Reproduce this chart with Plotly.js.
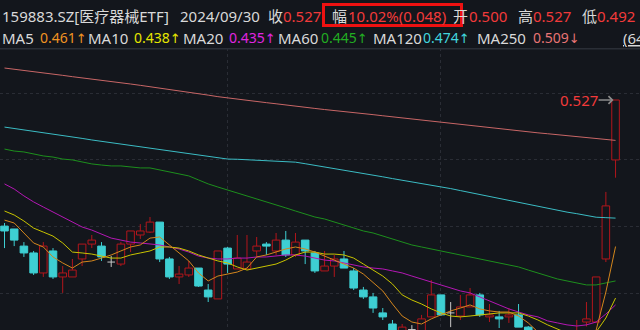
<!DOCTYPE html>
<html><head><meta charset="utf-8">
<script src="https://cdn.plot.ly/plotly-3.0.1.min.js"></script>
<style>html,body{margin:0;padding:0;background:#13161c;}#c{width:640px;height:330px;}</style>
</head><body><div id="c"></div>
<script>
// ---- data ----
const opens  = [0.4702,0.4689,0.4612,0.4581,0.4491,0.4590,0.4473,0.4473,0.4554,0.4621,0.4612,0.4540,0.4531,0.4621,0.4662,0.4675,0.4720,0.4554,0.4473,0.4482,0.4513,0.4414,0.4374,0.4603,0.4509,0.4509,0.4590,0.4621,0.4590,0.4639,0.4572,0.4639,0.4581,0.4500,0.4522,0.4554,0.4500,0.4414,0.4383,0.4311,0.4261,0.4222,0.4236,0.4225,0.4293,0.4392,0.4311,0.4297,0.4338,0.4392,0.4293,0.4293,0.4293,0.4302,0.4247,0.4200,0.4175,0.4150,0.4160,0.4170,0.4270,0.4270,0.4554,0.5000];
const highs  = [0.4716,0.4689,0.4630,0.4590,0.4630,0.4603,0.4522,0.4554,0.4621,0.4662,0.4630,0.4567,0.4630,0.4680,0.4711,0.4743,0.4720,0.4563,0.4522,0.4545,0.4513,0.4441,0.4590,0.4608,0.4662,0.4662,0.4653,0.4630,0.4671,0.4680,0.4671,0.4639,0.4590,0.4590,0.4572,0.4590,0.4513,0.4428,0.4401,0.4333,0.4279,0.4261,0.4256,0.4302,0.4459,0.4392,0.4360,0.4392,0.4423,0.4401,0.4351,0.4320,0.4333,0.4351,0.4252,0.4215,0.4200,0.4180,0.4190,0.4279,0.4360,0.4473,0.4856,0.5270];
const lows   = [0.4603,0.4612,0.4563,0.4482,0.4473,0.4464,0.4401,0.4473,0.4522,0.4603,0.4545,0.4518,0.4522,0.4585,0.4644,0.4671,0.4540,0.4464,0.4441,0.4473,0.4428,0.4360,0.4374,0.4491,0.4509,0.4509,0.4563,0.4572,0.4572,0.4563,0.4563,0.4531,0.4491,0.4500,0.4473,0.4513,0.4414,0.4374,0.4311,0.4279,0.4215,0.4212,0.4225,0.4220,0.4293,0.4297,0.4247,0.4279,0.4338,0.4293,0.4270,0.4243,0.4266,0.4247,0.4180,0.4160,0.4140,0.4120,0.4130,0.4160,0.4250,0.4265,0.4540,0.4920];
const closes = [0.4680,0.4639,0.4581,0.4491,0.4612,0.4473,0.4491,0.4504,0.4621,0.4639,0.4563,0.4540,0.4621,0.4680,0.4680,0.4720,0.4554,0.4473,0.4486,0.4513,0.4432,0.4383,0.4590,0.4531,0.4558,0.4540,0.4612,0.4612,0.4639,0.4572,0.4630,0.4590,0.4500,0.4522,0.4554,0.4513,0.4423,0.4383,0.4333,0.4293,0.4228,0.4247,0.4236,0.4284,0.4392,0.4302,0.4311,0.4338,0.4392,0.4302,0.4302,0.4284,0.4302,0.4247,0.4200,0.4175,0.4150,0.4160,0.4170,0.4220,0.4284,0.4473,0.4793,0.5270];

const ma5   = [0.4729,0.4716,0.4671,0.4626,0.4608,0.4563,0.4536,0.4513,0.4540,0.4545,0.4558,0.4572,0.4590,0.4608,0.4617,0.4648,0.4653,0.4617,0.4585,0.4545,0.4491,0.4455,0.4477,0.4486,0.4495,0.4513,0.4563,0.4572,0.4585,0.4599,0.4608,0.4599,0.4585,0.4567,0.4549,0.4531,0.4513,0.4486,0.4450,0.4410,0.4351,0.4297,0.4270,0.4261,0.4284,0.4302,0.4320,0.4333,0.4347,0.4329,0.4320,0.4315,0.4315,0.4297,0.4266,0.4225,0.4198,0.4180,0.4166,0.4166,0.4180,0.4234,0.4405,0.4610];
const ma10  = [0.4770,0.4752,0.4725,0.4693,0.4675,0.4657,0.4626,0.4585,0.4581,0.4576,0.4567,0.4558,0.4558,0.4572,0.4581,0.4590,0.4608,0.4608,0.4603,0.4590,0.4572,0.4558,0.4545,0.4536,0.4518,0.4504,0.4513,0.4522,0.4531,0.4549,0.4572,0.4585,0.4585,0.4576,0.4576,0.4572,0.4558,0.4531,0.4504,0.4477,0.4441,0.4392,0.4369,0.4351,0.4329,0.4311,0.4297,0.4293,0.4297,0.4302,0.4306,0.4311,0.4311,0.4311,0.4297,0.4279,0.4257,0.4239,0.4220,0.4207,0.4207,0.4225,0.4288,0.4378];
const ma20  = [0.4892,0.4869,0.4838,0.4811,0.4788,0.4765,0.4743,0.4720,0.4698,0.4684,0.4666,0.4648,0.4639,0.4630,0.4626,0.4621,0.4617,0.4608,0.4599,0.4585,0.4567,0.4558,0.4554,0.4554,0.4558,0.4558,0.4563,0.4563,0.4567,0.4572,0.4572,0.4567,0.4558,0.4549,0.4545,0.4536,0.4527,0.4518,0.4513,0.4509,0.4500,0.4491,0.4477,0.4464,0.4450,0.4437,0.4423,0.4410,0.4401,0.4383,0.4365,0.4347,0.4329,0.4315,0.4302,0.4293,0.4275,0.4266,0.4257,0.4252,0.4257,0.4270,0.4306,0.4347];
const ma60  = [0.5049,0.5040,0.5036,0.5027,0.5018,0.5013,0.5004,0.5000,0.4991,0.4982,0.4977,0.4973,0.4973,0.4968,0.4964,0.4964,0.4955,0.4946,0.4937,0.4928,0.4910,0.4892,0.4878,0.4865,0.4851,0.4838,0.4824,0.4811,0.4797,0.4784,0.4770,0.4757,0.4743,0.4734,0.4720,0.4707,0.4693,0.4680,0.4671,0.4657,0.4644,0.4630,0.4617,0.4608,0.4599,0.4590,0.4581,0.4572,0.4563,0.4554,0.4545,0.4536,0.4527,0.4518,0.4504,0.4491,0.4477,0.4464,0.4455,0.4446,0.4437,0.4437,0.4446,0.4455];
const ma120 = [0.5148,0.5142,0.5135,0.5129,0.5123,0.5116,0.5110,0.5103,0.5097,0.5090,0.5084,0.5078,0.5071,0.5065,0.5058,0.5052,0.5045,0.5039,0.5034,0.5028,0.5022,0.5016,0.5010,0.5004,0.5003,0.5001,0.5000,0.4998,0.4997,0.4995,0.4990,0.4983,0.4976,0.4969,0.4962,0.4954,0.4947,0.4939,0.4932,0.4924,0.4916,0.4909,0.4901,0.4894,0.4886,0.4879,0.4871,0.4862,0.4853,0.4844,0.4835,0.4826,0.4817,0.4808,0.4799,0.4790,0.4782,0.4774,0.4765,0.4758,0.4750,0.4742,0.4740,0.4738];
const ma250 = [0.5414,0.5409,0.5403,0.5397,0.5392,0.5386,0.5381,0.5375,0.5370,0.5364,0.5358,0.5353,0.5347,0.5342,0.5336,0.5330,0.5325,0.5318,0.5311,0.5305,0.5298,0.5292,0.5285,0.5279,0.5274,0.5268,0.5263,0.5258,0.5253,0.5247,0.5243,0.5237,0.5232,0.5227,0.5223,0.5218,0.5213,0.5208,0.5204,0.5199,0.5194,0.5190,0.5185,0.5180,0.5176,0.5171,0.5166,0.5161,0.5156,0.5152,0.5146,0.5141,0.5136,0.5131,0.5127,0.5122,0.5118,0.5114,0.5110,0.5105,0.5101,0.5097,0.5093,0.5088];

const priceGrid = [0.44, 0.47, 0.50, 0.53];
const dateGridIdx = [24, 46];
const titleText = '159883.SZ[医疗器械ETF]';
const dateText = '2024/09/30';
const quoteLabels = ['收', '幅', '开', '高', '低'];
const quoteValues = ['0.527', '10.02%(0.048)', '0.500', '0.527', '0.492'];
const maNames = ['MA5', 'MA10', 'MA20', 'MA60', 'MA120', 'MA250'];
const maLabels = ['0.461↑', '0.438↑', '0.435↑', '0.445↑', '0.474↑', '0.509↓'];
const countLabel = '(64)';
const lastPrice = closes[closes.length - 1];

// ---- styles ----
const BG = '#13161c';
const UP = '#b3161c';
const DOWN = '#3ecfd3';
const DOJI = '#c8c8c8';
const WHITE = '#d9d9d9';
const RED = '#f23a3a';
const maLineColors = ['#d4861c', '#c9c400', '#b416b4', '#1d8f1d', '#3bbcc4', '#c86666'];
const maTextColors = ['#f09322', '#e6e600', '#e025e0', '#22ad22', '#42d6de', '#e87474'];

const n = closes.length;
const xs = closes.map((_, i) => i + 1);
const upI = [], downI = [], dojiI = [];
xs.forEach((x, i) => {
  if (closes[i] > opens[i]) upI.push(i);
  else if (closes[i] < opens[i]) downI.push(i);
  else dojiI.push(i);
});

function bodyTrace(ids, fill, line) {
  return {
    type: 'bar', x: ids.map(i => xs[i]),
    base: ids.map(i => Math.min(opens[i], closes[i])),
    y: ids.map(i => Math.abs(closes[i] - opens[i])),
    width: 0.78,
    marker: { color: fill, line: { color: line, width: 1 } },
    hoverinfo: 'skip'
  };
}
function wickTrace(ids, color) {
  const wx = [], wy = [];
  ids.forEach(i => {
    const top = Math.max(opens[i], closes[i]), bot = Math.min(opens[i], closes[i]);
    wx.push(xs[i], xs[i], null, xs[i], xs[i], null);
    wy.push(lows[i], bot, null, top, highs[i], null);
  });
  return { type: 'scatter', mode: 'lines', x: wx, y: wy, line: { color: color, width: 1 }, hoverinfo: 'skip' };
}
function dojiTrace(ids) {
  const dx = [], dy = [];
  ids.forEach(i => {
    dx.push(xs[i] - 0.39, xs[i] + 0.39, null, xs[i], xs[i], null);
    dy.push(closes[i], closes[i], null, lows[i], highs[i], null);
  });
  return { type: 'scatter', mode: 'lines', x: dx, y: dy, line: { color: DOJI, width: 1 }, hoverinfo: 'skip' };
}

const maData = [ma5, ma10, ma20, ma60, ma120, ma250];
const traces = [
  wickTrace(upI, UP), wickTrace(downI, DOWN),
  bodyTrace(upI, BG, UP), bodyTrace(downI, DOWN, DOWN),
  dojiTrace(dojiI)
];
maData.slice().reverse().forEach((arr, k) => {
  const j = maData.length - 1 - k;
  traces.push({ type: 'scatter', mode: 'lines', x: xs, y: arr, line: { color: maLineColors[j], width: 1 }, hoverinfo: 'skip' });
});

// ---- header ----
const W = 640, H = 330, TOP = 48;
const px = p => p / W;
const py = p => (H - p) / (H - TOP);
const FONT = 'Noto Sans, Noto Sans CJK SC, sans-serif';
const anns = [];
function txt(t, x, y, color, anchor, family, size) {
  anns.push({ xref: 'paper', yref: 'paper', x: px(x), y: py(y), xanchor: anchor || 'left', yanchor: 'middle',
    text: t, showarrow: false, borderpad: 0, font: { family: family || FONT, size: size || 15, color: color } });
}
const r1 = 15.5, r2 = 37.5;
txt(titleText, 1, r1, WHITE);
txt(dateText, 179, r1, WHITE);
const qlX = [267, 331, 452, 517, 581];
const qvX = [282, 347, 468, 532, 596];
quoteLabels.forEach((l, i) => { txt(l, qlX[i], r1, WHITE); txt(quoteValues[i], qvX[i], r1, RED); });
const mnX = [1, 87, 182, 277, 372, 476];
const mvX = [38.5, 132.5, 227.5, 320, 422, 531.5];
maNames.forEach((m, i) => {
  txt(m, mnX[i], r2, WHITE);
  const v = maLabels[i].slice(0, -1), a = maLabels[i].slice(-1);
  txt(v + '<span style="font-family:DejaVu Sans;font-size:13px">' + a + '</span>', mvX[i], r2, maTextColors[i], 'left', FONT, 14);
});
txt('<u>' + countLabel + '</u>', 622, r2, WHITE);

anns.push({ x: n, y: lastPrice, xref: 'x', yref: 'y', text: lastPrice.toFixed(3), showarrow: true,
  ax: -17, ay: 0, axref: 'pixel', arrowcolor: '#8c8c8c', arrowwidth: 1.5, arrowhead: 4, arrowsize: 1,
  standoff: 2, xanchor: 'right', borderpad: 0, font: { family: FONT, size: 15, color: RED } });

const shapes = [
  { type: 'line', xref: 'paper', yref: 'paper', x0: 0, x1: 1, y0: py(48.8), y1: py(48.8), line: { color: '#2a2e36', width: 1.5 } },
  { type: 'rect', xref: 'paper', yref: 'paper', x0: px(323.5), x1: px(461.5), y0: py(4.5), y1: py(25.5), line: { color: '#ee1111', width: 3 } }
];

const layout = {
  width: W, height: H, margin: { l: 0, r: 0, t: TOP, b: 0, pad: 0 },
  paper_bgcolor: BG, plot_bgcolor: BG, showlegend: false, barmode: 'overlay',
  xaxis: { range: [0.536, 66.52], showticklabels: false, zeroline: false, showline: false,
    tickmode: 'array', tickvals: dateGridIdx, showgrid: true, gridcolor: '#2a2d35', griddash: 'dot', gridwidth: 1, ticks: '' },
  yaxis: { range: [0.4234, 0.55042], showticklabels: false, zeroline: false, showline: false,
    tickmode: 'array', tickvals: priceGrid, showgrid: true, gridcolor: '#2a2d35', griddash: 'dot', gridwidth: 1, ticks: '' },
  annotations: anns, shapes: shapes
};
Plotly.newPlot('c', traces, layout, { staticPlot: true, displayModeBar: false });
</script></body></html>
